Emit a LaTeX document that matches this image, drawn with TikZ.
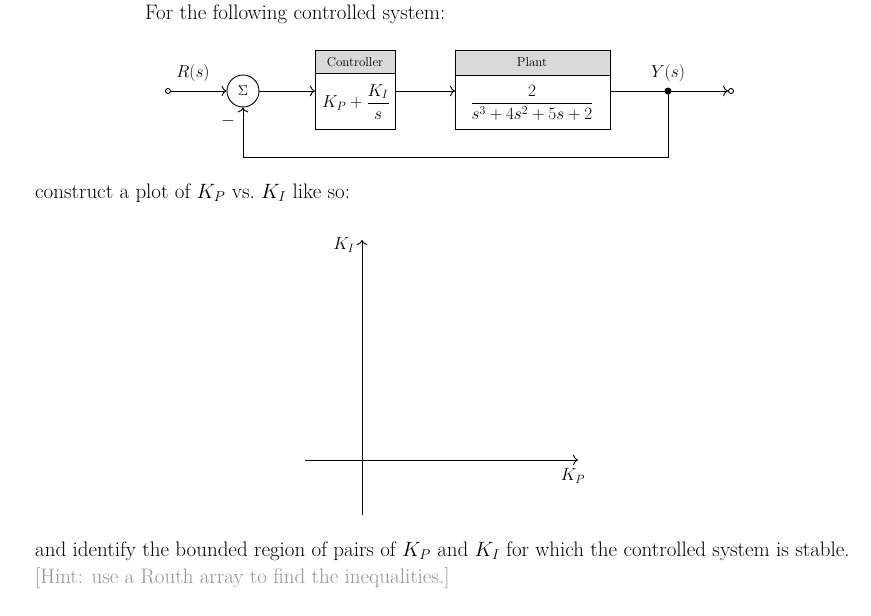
\documentclass[tikz,border=0pt]{standalone}
\usepackage{amsmath}
\usetikzlibrary{arrows.meta}
\begin{document}
\begin{tikzpicture}[x=1pt,y=-1pt,
  ln/.style={line width=0.9pt},
  ar/.style={ln,-{To[length=5pt]}},
  txt/.style={anchor=west,inner sep=0,font=\fontsize{21}{24}\selectfont},
  lab/.style={font=\fontsize{17}{20}\selectfont,inner sep=0},
  small/.style={font=\fontsize{13}{15}\selectfont,inner sep=0}]
\useasboundingbox (0,0) rectangle (871,616);
\node[txt] (t1) at (145,14) {For the following controlled system:};
% input
\node[circle,draw,ln,inner sep=0,minimum size=5pt] (in) at (168,91) {};
\node[circle,draw,ln,inner sep=0,minimum size=32pt,font=\fontsize{14}{16}\selectfont] (sum) at (243,91) {$\Sigma$};
\draw[ar] (in) -- (sum);
\node[lab] (R) at (193,73) {$R(s)$};
\node[lab] (minus) at (228,121) {$-$};
% controller
\draw[ln,fill=gray!30] (315,50) rectangle (395,73);
\draw[ln] (315,73) rectangle (395,129);
\node[small] (ch) at (355,62) {Controller};
\coordinate (cl) at (315,91); \coordinate (cr) at (395,91);
\node[lab] (cb) at (356,102) {$K_P+\dfrac{K_I}{s}$};
% plant
\draw[ln,fill=gray!30] (455,50) rectangle (610,75);
\draw[ln] (455,75) rectangle (610,129);
\node[small] (ph) at (532,62) {Plant};
\coordinate (pl) at (455,91); \coordinate (pr) at (610,91);
\node[lab] (pb) at (532,103) {$\dfrac{2}{s^3+4s^2+5s+2}$};
\draw[ar] (sum) -- (cl);
\draw[ar] (cr) -- (pl);
\coordinate (dot) at (668,91);
\fill (dot) circle (3.5pt);
\draw[ln] (pr) -- (dot);
\node[circle,draw,ln,inner sep=0,minimum size=5pt] (out) at (731,91) {};
\draw[ar] (dot) -- (out.west);
\node[lab] (Y) at (668,73) {$Y(s)$};
\coordinate (f1) at (668,157); \coordinate (f2) at (243,157);
\draw[ln] (dot) -- (f1) -- (f2);
\draw[ar] (f2) -- (sum);
% text
\node[txt] (t2) at (35,193) {construct a plot of $K_P$ vs.\ $K_I$ like so:};
% axes
\coordinate (yb) at (362,515); \coordinate (yt) at (362,240);
\coordinate (xl) at (305,460); \coordinate (xr) at (578,460);
\draw[ar] (yb) -- (yt);
\draw[ar] (xl) -- (xr);
\node[font=\fontsize{18}{20}\selectfont] (KI) at (344,245) {$K_I$};
\node[font=\fontsize{18}{20}\selectfont] (KP) at (573,476) {$K_P$};
\node[txt] (t3) at (35,551) {and identify the bounded region of pairs of $K_P$ and $K_I$ for which the controlled system is stable.};
\node[txt,text=gray!85] (t4) at (35,578) {[Hint: use a Routh array to find the inequalities.]};
\end{tikzpicture}
\end{document}
